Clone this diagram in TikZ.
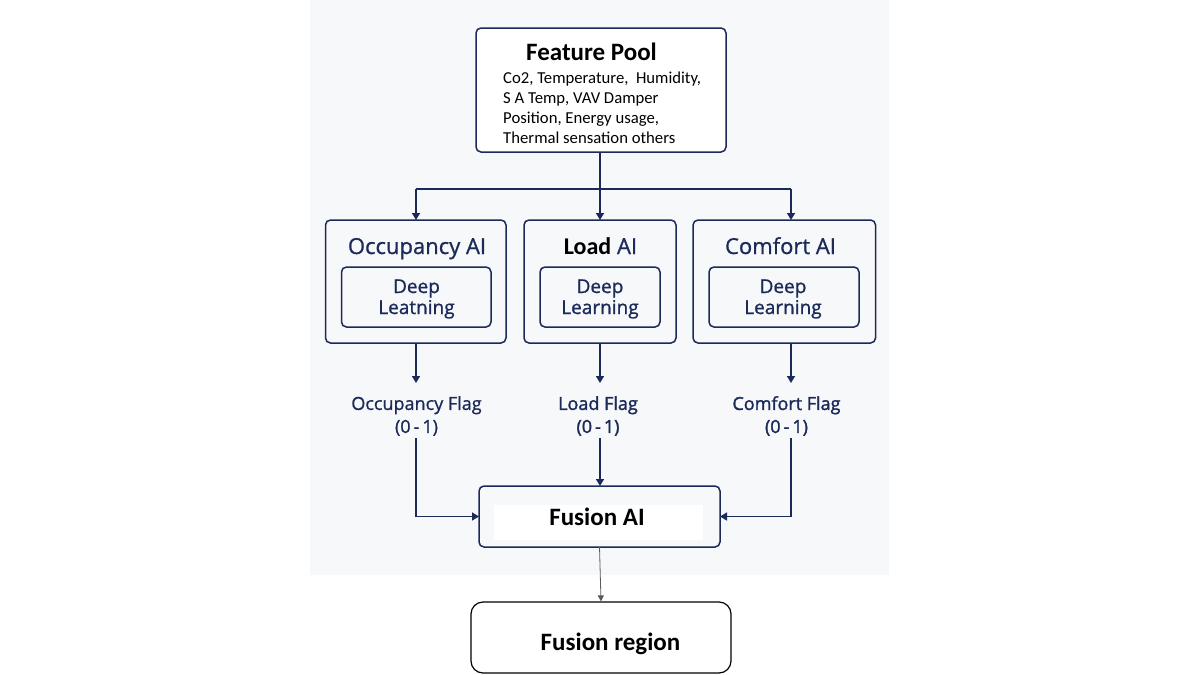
\documentclass[tikz,border=0pt]{standalone}
\usepackage{fontspec}
\setmainfont{Carlito}
\newfontfamily\navyfont[FakeBold=0.9]{Open Sans}
\newfontfamily\navyheavy[FakeBold=1.6]{Open Sans}
\newfontfamily\blackfont{Carlito}
\usetikzlibrary{arrows.meta}
\definecolor{navy}{RGB}{27,42,89}
\definecolor{bgpanel}{RGB}{247,248,250}
\definecolor{darkline}{RGB}{90,90,90}
\begin{document}
\begin{tikzpicture}[x=1pt,y=-1pt,
  navybox/.style={draw=navy, line width=1.5pt, rounded corners=5pt, inner sep=0pt, outer sep=0pt},
  conn/.style={draw=navy, line width=1.5pt},
  arr/.style={conn, -{Triangle[width=8pt,length=7pt]}},
  titletxt/.style={text=navy, font=\navyfont\fontsize{22}{26}\selectfont, inner sep=0pt, anchor=base},
  deeptxt/.style={text=navy, font=\navyfont\fontsize{19}{21}\selectfont, inner sep=0pt, align=center},
  flagtxt/.style={text=navy, font=\navyfont\fontsize{18}{23}\selectfont, inner sep=0pt, align=center},
  flagbold/.style={flagtxt, font=\navyheavy\fontsize{18}{23}\selectfont},
  boldtxt/.style={text=black, font=\blackfont\bfseries\fontsize{25}{30}\selectfont, inner sep=0pt, anchor=base},
  bodytxt/.style={text=black, font=\blackfont\fontsize{16.7}{20}\selectfont, inner sep=0pt, anchor=base west}
]
\useasboundingbox (0,0) rectangle (1200,675);
\fill[white] (0,0) rectangle (1200,675);
\fill[bgpanel] (310,0) rectangle (889,575);

% Feature pool
\node[navybox, fill=white, minimum width=250pt, minimum height=124pt] (fp) at (601,90) {};
\node[boldtxt] (fpt) at (591.5,60.5) {Feature Pool};
\node[bodytxt] (fp1) at (503,83.5) {Co2, Temperature,\ \ Humidity,};
\node[bodytxt] (fp2) at (503,103.5) {S A Temp, VAV Damper};
\node[bodytxt] (fp3) at (503,123.5) {Position, Energy usage,};
\node[bodytxt] (fp4) at (503,143.5) {Thermal sensation others};

% AI boxes
\node[navybox, minimum width=180.5pt, minimum height=123pt] (occ) at (415.75,281.5) {};
\node[navybox, minimum width=152pt, minimum height=123pt] (load) at (600,281.5) {};
\node[navybox, minimum width=182.5pt, minimum height=123pt] (com) at (784.3,281.5) {};

\node[titletxt] (occt) at (417,254) {Occupancy AI};
\node[titletxt] (loadt) at (600.5,254) {{\blackfont\bfseries\fontsize{24}{26}\selectfont\color{black}Load} AI};
\node[titletxt] (comt) at (780.5,254) {Comfort AI};

\node[navybox, minimum width=149.5pt, minimum height=60pt] (occin) at (416.25,297) {};
\node[navybox, minimum width=120pt, minimum height=60pt] (loadin) at (600,297) {};
\node[navybox, minimum width=150pt, minimum height=60pt] (comin) at (784,297) {};

\node[deeptxt] (occd) at (416.5,299) {Deep\\Leatning};
\node[deeptxt] (loadd) at (600,299) {Deep\\Learning};
\node[deeptxt] (comd) at (783,299) {Deep\\Learning};

% Flags
\node[flagtxt] (occf) at (416.5,416) {Occupancy Flag\\(0\,-\,1)};
\node[flagbold] (loadf) at (598,416) {Load Flag\\(0\,-\,1)};
\node[flagbold] (comf) at (786.5,416) {Comfort Flag\\(0\,-\,1)};

\coordinate (occfin) at (416,383);
\coordinate (loadfin) at (600,383);
\coordinate (comfin) at (791,383);
\coordinate (occfout) at (416,438);
\coordinate (loadfout) at (600,438);
\coordinate (comfout) at (791,438);

% Fusion AI
\node[navybox, minimum width=241pt, minimum height=61pt] (fus) at (599.5,516.5) {};
\fill[white] (494,505) rectangle (703,540);
\node[boldtxt] (fust) at (597,525) {Fusion AI};

% Fusion region
\node[draw=black, line width=1.2pt, rounded corners=12pt, fill=white, inner sep=0pt,
      minimum width=260pt, minimum height=71pt] (fr) at (601,637.5) {};
\node[boldtxt] (frt) at (610.5,650) {Fusion region};

% Connectors
\coordinate (j) at (600,189);
\coordinate (jl) at (416,189);
\coordinate (jr) at (791,189);
\draw[conn] (fp.south -| j) -- (j);
\draw[conn] (jl) -- (jr);
\draw[arr] (jl) -- (jl |- occ.north);
\draw[arr] (j) -- (j |- load.north);
\draw[arr] (jr) -- (jr |- com.north);

\draw[arr] (occ.south -| occfin) -- (occfin);
\draw[arr] (load.south -| loadfin) -- (loadfin);
\draw[arr] (com.south -| comfin) -- (comfin);

\draw[arr] (occfout) |- (fus.west);
\draw[arr] (loadfout) -- (loadfout |- fus.north);
\draw[arr] (comfout) |- (fus.east);

\draw[draw=darkline, line width=0.8pt, -{Triangle[width=6pt,length=6pt]}] (fus.south) -- (fr.north);
\end{tikzpicture}
\end{document}
